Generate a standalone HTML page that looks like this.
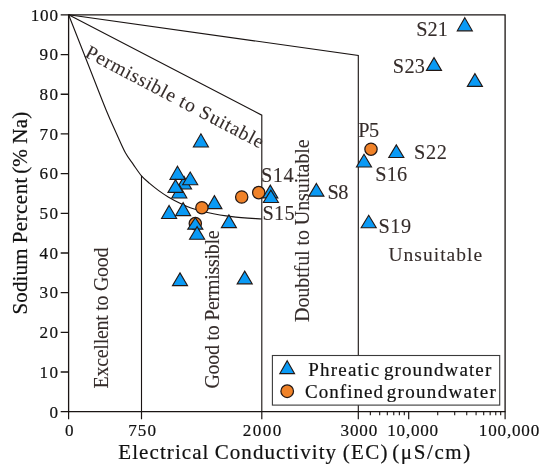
<!DOCTYPE html>
<html><head><meta charset="utf-8"><title>Wilcox diagram</title>
<style>
html,body{margin:0;padding:0;background:#fff}
svg{display:block}
.k text{fill:#111;stroke:#111;stroke-width:0.2px}
.b text{fill:#352c2a;stroke:#352c2a;stroke-width:0.1px}
text{font-family:"Liberation Serif",serif;fill:#1a1413;font-kerning:none;font-variant-ligatures:none;white-space:pre}
</style></head><body>
<svg width="550" height="471" viewBox="0 0 550 471">
<rect width="550" height="471" fill="#fff"/>
<g fill="none" stroke="#1a1413" stroke-width="1.12">
<path d="M68.6,14.8 L358.3,55.4 V411.6" />
<path d="M68.6,14.8 L261.8,115.2 V411.6" />
<path d="M68.60,14.80 C71.73,22.75 81.15,46.63 87.40,62.50 C93.65,78.37 101.30,98.25 106.10,110.00 C110.90,121.75 112.98,125.87 116.20,133.00 C119.42,140.13 122.53,147.53 125.40,152.80 C128.27,158.07 130.72,160.77 133.40,164.60 C136.08,168.43 138.80,172.67 141.50,175.80 C144.20,178.93 146.73,180.93 149.60,183.40 C152.47,185.87 155.60,188.35 158.70,190.60 C161.80,192.85 164.65,194.80 168.20,196.90 C171.75,199.00 176.20,201.35 180.00,203.20 C183.80,205.05 186.62,206.50 191.00,208.00 C195.38,209.50 199.50,210.77 206.30,212.20 C213.10,213.63 222.55,215.47 231.80,216.60 C241.05,217.73 256.80,218.60 261.80,219.00" />
<path d="M141.5,175.8 V411.6" />
<path d="M68.6,14.8 H505.1 V411.6" stroke-width="1.3"/>
<path d="M68.6,14.15 V412.25" stroke-width="1.3"/>
<path d="M67.95,411.6 H505.60" stroke-width="1.2"/>
<path d="M60.70,411.70 H68.6 M60.70,372.02 H68.6 M60.70,332.34 H68.6 M60.70,292.66 H68.6 M60.70,252.98 H68.6 M60.70,213.30 H68.6 M60.70,173.62 H68.6 M60.70,133.94 H68.6 M60.70,94.26 H68.6 M60.70,54.58 H68.6 M60.70,14.90 H68.6 " stroke-width="1.3"/>
<path d="M68.60,411.6 V419.20 M141.50,411.6 V419.20 M261.80,411.6 V419.20 M358.30,411.6 V419.20 M408.70,411.6 V419.20 M505.10,411.6 V419.20 " stroke-width="1.2"/>
<path d="M370.34,411.6 V415.30 M379.69,411.6 V415.30 M387.32,411.6 V415.30 M393.77,411.6 V415.30 M399.36,411.6 V415.30 M404.29,411.6 V415.30 M437.72,411.6 V415.30 M454.70,411.6 V415.30 M466.74,411.6 V415.30 M476.08,411.6 V415.30 M483.71,411.6 V415.30 M490.17,411.6 V415.30 M495.76,411.6 V415.30 M500.69,411.6 V415.30 " stroke-width="1.1"/>
</g>
<g fill="#F08228" stroke="#231815" stroke-width="1.25"><circle cx="195.30" cy="223.60" r="6.15"/></g>
<g fill="#0A9AF5" stroke="#231815" stroke-width="1.1" stroke-linejoin="miter"><path d="M200.90,133.85 L208.45,147.05 H193.35 Z"/><path d="M184.00,176.35 L191.55,188.95 H176.45 Z"/><path d="M177.50,166.15 L185.05,179.35 H169.95 Z"/><path d="M190.20,172.05 L197.75,184.75 H182.65 Z"/><path d="M179.30,184.85 L186.85,197.95 H171.75 Z"/><path d="M175.50,179.65 L183.05,192.35 H167.95 Z"/><path d="M169.10,205.45 L176.65,218.55 H161.55 Z"/><path d="M183.10,202.65 L190.65,215.65 H175.55 Z"/><path d="M214.40,195.65 L221.95,208.65 H206.85 Z"/><path d="M228.90,214.85 L236.45,227.65 H221.35 Z"/><path d="M270.30,185.15 L277.85,197.85 H262.75 Z"/><path d="M270.90,190.15 L278.45,202.55 H263.35 Z"/><path d="M316.40,183.45 L323.95,196.15 H308.85 Z"/><path d="M364.00,154.25 L371.55,166.95 H356.45 Z"/><path d="M396.30,144.85 L403.85,157.55 H388.75 Z"/><path d="M368.70,215.25 L376.25,227.75 H361.15 Z"/><path d="M464.80,17.65 L472.35,30.85 H457.25 Z"/><path d="M434.00,57.65 L441.55,70.35 H426.45 Z"/><path d="M474.90,73.65 L482.45,86.35 H467.35 Z"/><path d="M180.00,272.85 L187.55,285.65 H172.45 Z"/><path d="M244.70,271.15 L252.25,283.85 H237.15 Z"/><path d="M195.30,217.65 L202.85,229.15 H187.75 Z"/><path d="M197.10,226.65 L204.65,239.25 H189.55 Z"/></g>
<g fill="#F08228" stroke="#231815" stroke-width="1.25"><circle cx="201.90" cy="207.70" r="6.15"/><circle cx="241.70" cy="197.00" r="6.15"/><circle cx="258.70" cy="192.60" r="6.15"/><circle cx="371.00" cy="149.20" r="6.15"/></g>
<g class="k">
<text x="49.40" y="417.50" font-size="17.1" style="letter-spacing:0.000px">0</text>
<text x="39.60" y="377.82" font-size="17.1" style="letter-spacing:1.250px">10</text>
<text x="39.60" y="338.14" font-size="17.1" style="letter-spacing:1.250px">20</text>
<text x="39.60" y="298.46" font-size="17.1" style="letter-spacing:1.250px">30</text>
<text x="39.60" y="258.78" font-size="17.1" style="letter-spacing:1.250px">40</text>
<text x="39.60" y="219.10" font-size="17.1" style="letter-spacing:1.250px">50</text>
<text x="39.60" y="179.42" font-size="17.1" style="letter-spacing:1.250px">60</text>
<text x="39.60" y="139.74" font-size="17.1" style="letter-spacing:1.250px">70</text>
<text x="39.60" y="100.06" font-size="17.1" style="letter-spacing:1.250px">80</text>
<text x="39.60" y="60.38" font-size="17.1" style="letter-spacing:1.250px">90</text>
<text x="30.80" y="20.70" font-size="17.1" style="letter-spacing:0.752px">100</text>
<text x="64.95" y="435.60" font-size="17.1" style="letter-spacing:0.000px">0</text>
<text x="128.37" y="435.60" font-size="17.1" style="letter-spacing:0.964px">750</text>
<text x="242.85" y="435.60" font-size="17.1" style="letter-spacing:1.401px">2000</text>
<text x="340.48" y="435.60" font-size="17.1" style="letter-spacing:0.890px">3000</text>
<text x="387.30" y="435.60" font-size="17.1" style="letter-spacing:0.746px">10,000</text>
<text x="478.80" y="435.60" font-size="17.1" style="letter-spacing:0.813px">100,000</text>
<text x="118.30" y="459.30" font-size="21" style="letter-spacing:1.076px">Electrical</text>
<text x="214.74" y="459.30" font-size="21" style="letter-spacing:1.062px">Conductivity</text>
<text x="342.68" y="459.30" font-size="21" style="letter-spacing:1.375px">(EC)</text>
<text x="392.28" y="459.30" font-size="21" style="letter-spacing:1.589px">(μS/cm)</text>
<text transform="translate(27.20,314.60) rotate(-90)" font-size="21" style="letter-spacing:0.157px">Sodium</text>
<text transform="translate(27.20,243.30) rotate(-90)" font-size="21" style="letter-spacing:0.460px">Percent</text>
<text transform="translate(27.20,173.82) rotate(-90)" font-size="21" style="letter-spacing:0.146px">(% Na)</text>
</g>
<g class="b">
<text transform="translate(107.90,388.48) rotate(-90)" font-size="20" style="letter-spacing:-0.281px">Excellent to Good</text>
<text transform="translate(218.80,388.62) rotate(-90)" font-size="20" style="letter-spacing:-0.279px">Good to Permissible</text>
<text transform="translate(308.80,321.98) rotate(-90)" font-size="20" style="letter-spacing:-0.084px">Doubtful to Unsuitable</text>
<text x="388.49" y="260.70" font-size="19.5" style="letter-spacing:1.011px">Unsuitable</text>
<text transform="translate(84.10,56.14) rotate(27.76)" font-size="19.5" style="letter-spacing:0.841px">Permissible to Suitable</text>
<text x="416.24" y="36.20" font-size="20.3" style="letter-spacing:-0.006px">S21</text>
<text x="392.84" y="73.20" font-size="20.3" style="letter-spacing:0.281px">S23</text>
<text x="358.32" y="137.00" font-size="20.3" style="letter-spacing:-0.662px">P5</text>
<text x="414.04" y="158.70" font-size="20.3" style="letter-spacing:0.594px">S22</text>
<text x="375.14" y="180.50" font-size="20.3" style="letter-spacing:0.236px">S16</text>
<text x="327.44" y="199.10" font-size="20.3" style="letter-spacing:-0.509px">S8</text>
<text x="378.44" y="233.30" font-size="20.3" style="letter-spacing:0.600px">S19</text>
<text x="260.94" y="181.50" font-size="20.3" style="letter-spacing:0.593px">S14</text>
<text x="262.44" y="219.50" font-size="20.3" style="letter-spacing:0.381px">S15</text>
</g>
<rect x="272.4" y="355.5" width="227.3" height="49.6" fill="#fff" stroke="#3a3a3a" stroke-width="1.1"/>
<g fill="#0A9AF5" stroke="#231815" stroke-width="1.1"><path d="M287.20,360.65 L294.60,373.65 H279.80 Z"/></g>
<g fill="#F08228" stroke="#231815" stroke-width="1.25"><circle cx="287.20" cy="391.20" r="6.3"/></g>
<g class="k">
<text x="308.15" y="375.70" font-size="19" style="letter-spacing:1.240px">Phreatic</text>
<text x="383.88" y="375.70" font-size="19" style="letter-spacing:1.136px">groundwater</text>
<text x="304.92" y="398.10" font-size="19" style="letter-spacing:1.057px">Confined</text>
<text x="386.78" y="398.10" font-size="19" style="letter-spacing:1.316px">groundwater</text>
</g>
</svg>
</body></html>
